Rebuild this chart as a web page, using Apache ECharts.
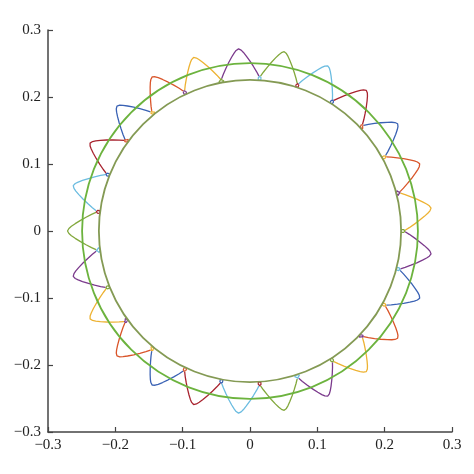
<!DOCTYPE html>
<html>
<head>
<meta charset="utf-8">
<script src="https://cdn.jsdelivr.net/npm/echarts@6/dist/echarts.min.js"></script>
<style>
    html, body { margin: 0; padding: 0; background: #fff; }
    #main { width: 474px; height: 474px; }
</style>
</head>
<body>
<div id="main"></div>
<script>
// peak angle (deg) of each lobe, in drawing order (clockwise)
var lobeAngles = [338.4, 324, 309.6, 295.2, 280.8, 266.4, 252, 237.6, 223.2, 208.8, 194.4, 180,
    165.6, 151.2, 136.8, 122.4, 108, 93.6, 79.2, 64.8, 50.4, 36, 21.6, 7.2, 352.8];
// one lobe: angle offset from its peak (deg) and radius
var lobeDTheta = [-6.9, -6.0, -4.8, -3.6, -2.4, -1.5, -0.8, -0.3, 0, 0.3, 0.8, 1.5, 2.4, 3.6, 4.8, 6.0, 6.9];
var lobeR = [0.2310, 0.2372, 0.2450, 0.2528, 0.2605, 0.2660, 0.2696, 0.2713, 0.2717,
    0.2713, 0.2696, 0.2660, 0.2605, 0.2528, 0.2450, 0.2372, 0.2310];
// the small loop where two lobes meet: offset from the junction (deg) and radius
var loopDTheta = [-0.3, 0.5, 0.95, 0.5, 0, -0.5, -0.95, -0.5, 0.3];
var loopR = [0.2310, 0.2290, 0.2268, 0.2254, 0.2250, 0.2254, 0.2268, 0.2290, 0.2310];
// the two rings
var ringR = [0.25, 0.225];
var ringColors = ["#6cb33e", "#849a54"];
var lineColors = ["#3a62b4", "#d9552a", "#edb232", "#7b3a8c", "#82a83c", "#6bbce0", "#a8232f"];

var grid = { left: 48, right: 22, top: 30, bottom: 42 };
var cx = grid.left + (474 - grid.left - grid.right) / 2;
var cy = grid.top + (474 - grid.top - grid.bottom) / 2;
var pxPerUnit = ((474 - grid.left - grid.right) + (474 - grid.top - grid.bottom)) / 2 / 0.6;

function fmt(v) {
    var s = String(Math.round(Math.abs(v) * 10) / 10);
    return v < -1e-9 ? "\u2212" + s : s;
}

function norm(a) {
    return ((a % 360) + 360) % 360;
}

var series = [];
for (var j = 0; j < lobeAngles.length; j++) {
    var pts = [];
    for (var k = 0; k < lobeDTheta.length; k++) {
        pts.push([lobeR[k], norm(lobeAngles[j] + lobeDTheta[k])]);
    }
    series.push({
        type: "line", coordinateSystem: "polar", polarIndex: 0,
        data: pts, showSymbol: false, silent: true,
        lineStyle: { color: lineColors[j % 7], width: 1.3 }
    });
    var lp = [];
    for (var m = 0; m < loopDTheta.length; m++) {
        lp.push([loopR[m], norm(lobeAngles[j] - 7.2 + loopDTheta[m])]);
    }
    series.push({
        type: "line", coordinateSystem: "polar", polarIndex: 0,
        data: lp, showSymbol: false, silent: true,
        lineStyle: { color: lineColors[(j + 2) % 7], width: 1.2 }
    });
}

var polar = [{ center: [cx, cy], radius: 0.3 * pxPerUnit }];
var angleAxis = [{ polarIndex: 0, type: "value", min: 0, max: 360, startAngle: 0, clockwise: false, show: false }];
var radiusAxis = [{ polarIndex: 0, type: "value", min: 0, max: 0.3, show: false }];
ringR.forEach(function (r, i) {
    polar.push({ center: [cx, cy], radius: r * pxPerUnit });
    angleAxis.push({
        polarIndex: i + 1, type: "value", min: 0, max: 360, z: 5,
        axisLine: { show: true, lineStyle: { color: ringColors[i], width: 1.8 } },
        axisTick: { show: false }, axisLabel: { show: false },
        splitLine: { show: false }, splitArea: { show: false }
    });
    radiusAxis.push({ polarIndex: i + 1, type: "value", min: 0, max: r, show: false });
});

var axisCommon = {
    type: "value", min: -0.3, max: 0.3, interval: 0.1,
    axisLine: { show: true, onZero: false, lineStyle: { color: "#444", width: 1.5 } },
    axisTick: { show: true, inside: true, length: 5, lineStyle: { color: "#444", width: 1.2 } },
    splitLine: { show: false },
    axisLabel: { formatter: fmt, fontFamily: "Liberation Serif", fontSize: 15, color: "#222" }
};

var chart = echarts.init(document.getElementById("main"));
chart.setOption({
    animation: false,
    backgroundColor: "#fff",
    grid: grid,
    xAxis: Object.assign({}, axisCommon, { axisLabel: Object.assign({}, axisCommon.axisLabel, { margin: 6 }) }),
    yAxis: Object.assign({}, axisCommon, { axisLabel: Object.assign({}, axisCommon.axisLabel, { margin: 7 }) }),
    polar: polar,
    angleAxis: angleAxis,
    radiusAxis: radiusAxis,
    series: series
});
</script>
</body>
</html>
